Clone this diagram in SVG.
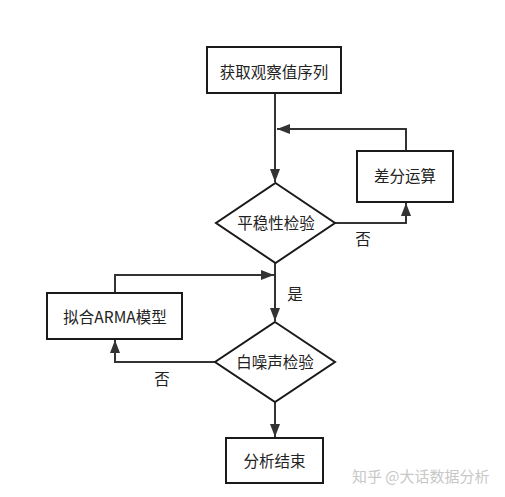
<svg xmlns="http://www.w3.org/2000/svg" width="505" height="497" viewBox="0 0 505 497">
<defs>
<style>
.box{fill:#fff;stroke:#1a1a1a;stroke-width:2}
.t{font-family:"Noto Sans CJK SC","Liberation Sans",sans-serif;font-size:15.5px;fill:#222;text-anchor:middle;dominant-baseline:central}
.c{fill:none;stroke:#333;stroke-width:2}
.wm{font-family:"Noto Sans CJK SC","Liberation Sans",sans-serif;font-size:15px;fill:#c8c8c8;text-anchor:start;dominant-baseline:central}
</style>
<marker id="ah" markerUnits="userSpaceOnUse" markerWidth="14" markerHeight="14" viewBox="0 0 14 14" refX="13" refY="7" orient="auto">
<path d="M0,2 L13,7 L0,12 Z" fill="#333"/>
</marker>
</defs>
<rect width="505" height="497" fill="#fff"/>
<g id="connectors">
<path class="c" d="M275,93 V182" marker-end="url(#ah)"/>
<path class="c" d="M406,151 V129 H277" marker-end="url(#ah)"/>
<path class="c" d="M335,223 H406 V203" marker-end="url(#ah)"/>
<path class="c" d="M275,263 V321" marker-end="url(#ah)"/>
<path class="c" d="M115,293 V275 H274" marker-end="url(#ah)"/>
<path class="c" d="M215,362 H115 V340" marker-end="url(#ah)"/>
<path class="c" d="M275,402 V437" marker-end="url(#ah)"/>
<text class="t" x="363" y="238">否</text>
<text class="t" x="295" y="293">是</text>
<text class="t" x="162" y="378">否</text>
</g>
<g id="n1"><rect class="box" x="207" y="47" width="134" height="46"/><text class="t" x="274" y="71">获取观察值序列</text></g>
<g id="n2"><rect class="box" x="357" y="151" width="96" height="51"/><text class="t" x="405" y="175">差分运算</text></g>
<g id="n3"><polygon class="box" points="275.5,183 335,223 275.5,263 216,223"/><text class="t" x="276" y="222">平稳性检验</text></g>
<g id="n4"><rect class="box" x="47" y="293" width="135" height="46"/><text class="t" x="115" y="316">拟合ARMA模型</text></g>
<g id="n5"><polygon class="box" points="275,322 335,362 275,402 215,362"/><text class="t" x="275" y="361">白噪声检验</text></g>
<g id="n6"><rect class="box" x="226" y="438" width="97" height="45"/><text class="t" x="274.5" y="460">分析结束</text></g>
<text class="wm" x="352" y="475">知乎 @大话数据分析</text>
</svg>
